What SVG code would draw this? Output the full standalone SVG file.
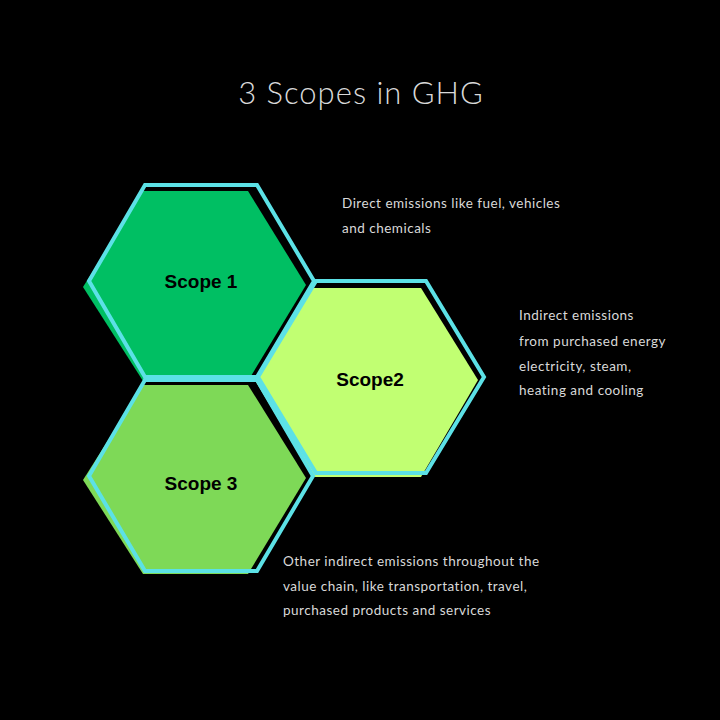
<svg xmlns="http://www.w3.org/2000/svg" width="720" height="720" viewBox="0 0 720 720">
<style>
.ol{fill:none;stroke:#5ce1e6;stroke-width:4;stroke-linejoin:miter}
.lb{font-family:"Liberation Sans",Arial,sans-serif;font-weight:bold;font-size:19px;fill:#000;text-anchor:middle}
.d{font-family:Lato,"Liberation Sans",sans-serif;font-size:13.5px;fill:#d9d9d9;letter-spacing:0.5px}
</style>
<rect width="720" height="720" fill="#000"/>
<text x="361" y="104" text-anchor="middle" font-family="Lato,'Liberation Sans',sans-serif" font-weight="300" font-size="31" letter-spacing="1" fill="#d9d9d9">3 Scopes in GHG</text>
<g id="scope1">
<polygon points="143,191 248,191 306,285 248,381 143,381 83,287" fill="#00bf63"/>
<polygon class="ol" points="145,185 257,185 314,281 257,377 145,377 89,281"/>
<text class="lb" x="201" y="288">Scope 1</text>
</g>
<g id="scope2">
<polygon points="313,288 421,288 478,380 421,477 313,477 256,382" fill="#c1ff72"/>
<polygon class="ol" points="316,281 426,281 484,377 426,473 316,473 258,377"/>
<text class="lb" x="370" y="386">Scope2</text>
</g>
<g id="scope3">
<polygon points="143,385 248,385 306,478 248,574 143,574 83,480" fill="#7ed957"/>
<polygon class="ol" points="145,380 257,380 313,476 257,571 145,571 89,476"/>
<text class="lb" x="201" y="490">Scope 3</text>
</g>
<g id="texts">
<text class="d" x="342" y="208">Direct emissions like fuel, vehicles</text>
<text class="d" x="342" y="233">and chemicals</text>
<text class="d" x="519" y="320">Indirect emissions</text>
<text class="d" x="519" y="346">from purchased energy</text>
<text class="d" x="519" y="371">electricity, steam,</text>
<text class="d" x="519" y="395">heating and cooling</text>
<text class="d" x="283" y="566">Other indirect emissions throughout the</text>
<text class="d" x="283" y="591">value chain, like transportation, travel,</text>
<text class="d" x="283" y="615">purchased products and services</text>
</g>
</svg>
